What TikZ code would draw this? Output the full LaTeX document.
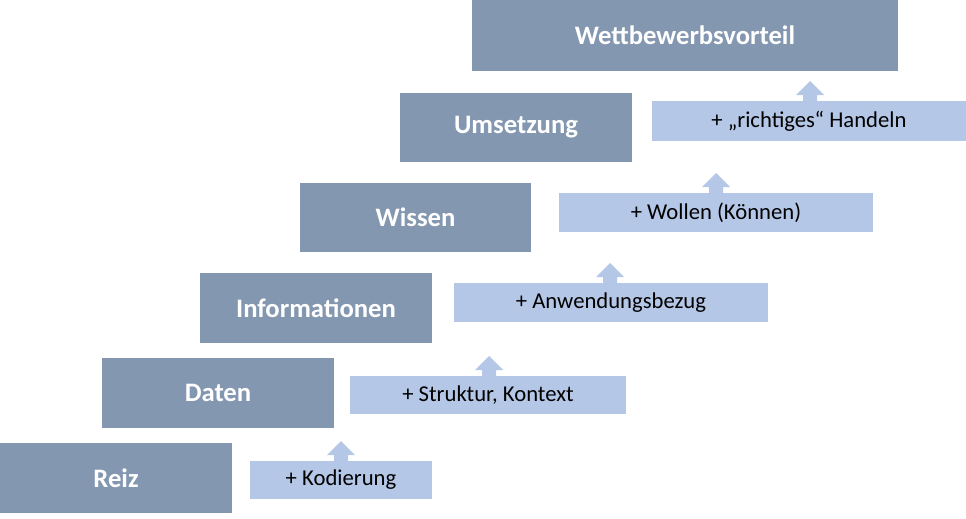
\documentclass[tikz,border=0pt]{standalone}
\usepackage{fontspec}
\setmainfont{Carlito}
\definecolor{dk}{HTML}{8497B0}
\definecolor{lt}{HTML}{B4C7E7}
\begin{document}
\begin{tikzpicture}[x=0.75pt,y=-0.75pt,
  dbox/.style={fill=dk,draw=none,text=white,font=\bfseries\fontsize{20}{24}\selectfont},
  lbox/.style={fill=lt,draw=none,text=black,font=\fontsize{17}{20}\selectfont},
  uparr/.style={fill=lt,draw=none}]
\useasboundingbox (0,0) rectangle (966,518);
\newcommand\dboxat[6]{\path[dbox] (#1,#2) rectangle (#3,#4); \node[font=\bfseries\fontsize{20}{24}\selectfont,text=white] (#5) at ({(#1+#3)/2},{(#2+#4)/2}) {#6};}
\newcommand\lboxat[6]{\path[lbox] (#1,#2) rectangle (#3,#4); \node[font=\fontsize{17}{20}\selectfont] (#5) at ({(#1+#3)/2},{(#2+#4)/2}) {#6};}
\newcommand\arrat[2]{\path[uparr] (#1-7,#2) -- (#1-7,#2-7) -- (#1-14,#2-7) -- (#1,#2-21) -- (#1+14,#2-7) -- (#1+7,#2-7) -- (#1+7,#2) -- cycle;}
\dboxat{0}{443}{232}{513}{reiz}{Reiz}
\dboxat{102}{358}{334}{428}{daten}{Daten}
\dboxat{200}{273}{432}{343}{info}{Informationen}
\dboxat{300}{183}{531}{252}{wissen}{Wissen}
\dboxat{400}{93}{632}{162}{ums}{Umsetzung}
\dboxat{472}{0}{898}{71}{wett}{Wettbewerbsvorteil}
\lboxat{250}{461}{432}{499}{kod}{+ Kodierung}
\lboxat{350}{376}{626}{414}{str}{+ Struktur, Kontext}
\lboxat{454}{283}{768}{322}{anw}{+ Anwendungsbezug}
\lboxat{559}{193}{873}{232}{wol}{+ Wollen (Können)}
\lboxat{652}{101}{966}{141}{han}{+ „richtiges“ Handeln}
\arrat{341}{462}
\arrat{489}{377}
\arrat{610}{284}
\arrat{716}{194}
\arrat{810}{102}
\end{tikzpicture}
\end{document}
